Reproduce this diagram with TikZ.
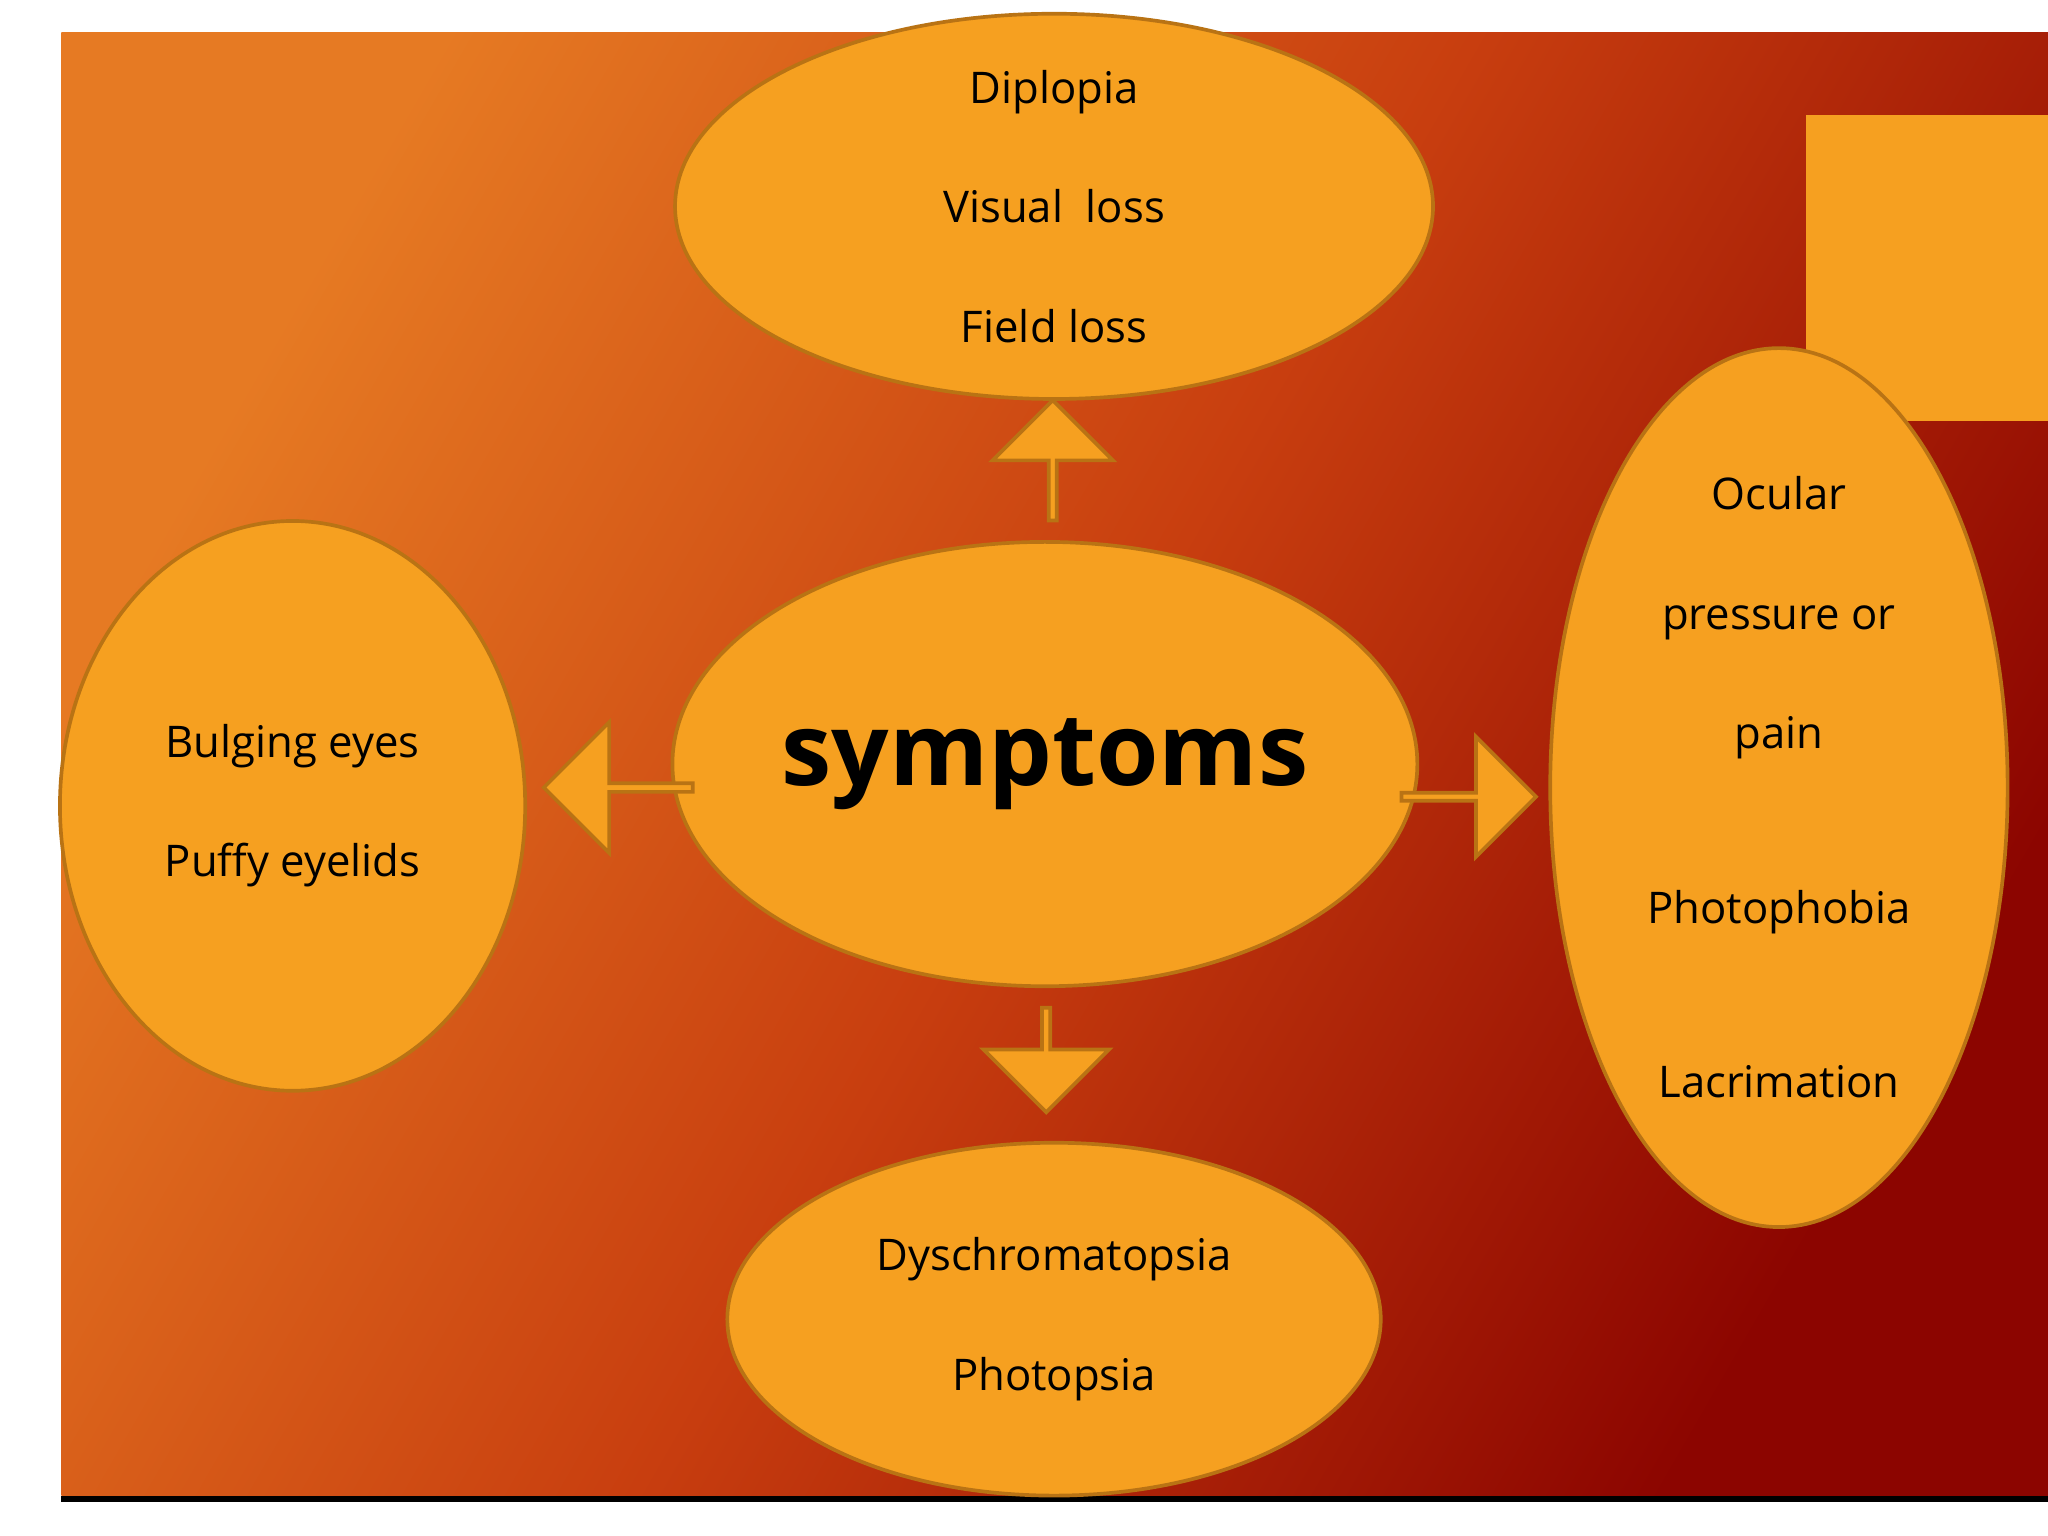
\documentclass[tikz,border=0pt]{standalone}
\usepackage{fontspec}
\setmainfont{Open Sans}
\usetikzlibrary{shapes.geometric,shapes.arrows}
\definecolor{bgorange}{RGB}{230,122,35}
\definecolor{bgmid}{RGB}{200,62,15}
\definecolor{bgdark}{RGB}{140,5,0}
\definecolor{blobfill}{RGB}{246,160,32}
\definecolor{blobedge}{RGB}{185,115,20}
\tikzset{
  blob/.style={ellipse,fill=blobfill,draw=blobedge,thick,align=center,
    inner sep=0pt,font=\fontsize{9.5}{26}\selectfont},
  fat/.style={single arrow,fill=blobfill,draw=blobedge,thick,inner sep=0pt,
    minimum width=0.92cm,single arrow head extend=0.2cm,minimum height=0.92cm}
}
\begin{document}
\begin{tikzpicture}[x=0.01cm,y=-0.01cm]
  \useasboundingbox (0,0) rectangle (1568,1176);
  \fill[white] (0,0) rectangle (1568,1176);
  \shade[left color=bgorange,right color=bgdark,middle color=bgmid,shading angle=60]
    (47,25) rectangle (1568,1145);
  \fill[black] (47,1145) rectangle (1568,1150);
  \fill[blobfill] (1383,88) rectangle (1568,322);
  % blobs
  \node[blob,minimum width=5.8cm,minimum height=2.7cm] (vision) at (807,158)
    {Diplopia\\Visual\ \ loss\\Field loss};
  \node[blob,minimum width=5.16cm,minimum height=3.4cm,
    font=\fontsize{22}{26}\bfseries\selectfont] (sympt) at (800,585) {symptoms};
  \node[blob,minimum width=3.56cm,minimum height=4.36cm] (lids) at (224,617)
    {Bulging eyes\\Puffy eyelids};
  \node[blob,minimum width=3.5cm,minimum height=4.9cm] (ocular) at (1362,603)
    {\fontsize{9.5}{13.5}\selectfont Ocular\\pressure or\\pain\\[12pt]Photophobia\\[12pt]Lacrimation};
  \node[blob,minimum width=5cm,minimum height=2.7cm] (colour) at (807,1010)
    {Dyschromatopsia\\Photopsia};
  % arrows
  \node[fat,shape border rotate=90] (up) at (806,354) {};
  \node[fat,shape border rotate=180,minimum height=1.14cm,minimum width=1cm] (lt) at (475,603) {};
  \node[fat,minimum height=1.03cm] (rt) at (1123,610) {};
  \node[fat,shape border rotate=270,minimum height=0.8cm,minimum width=0.96cm] (dn) at (801,810) {};
\end{tikzpicture}
\end{document}
